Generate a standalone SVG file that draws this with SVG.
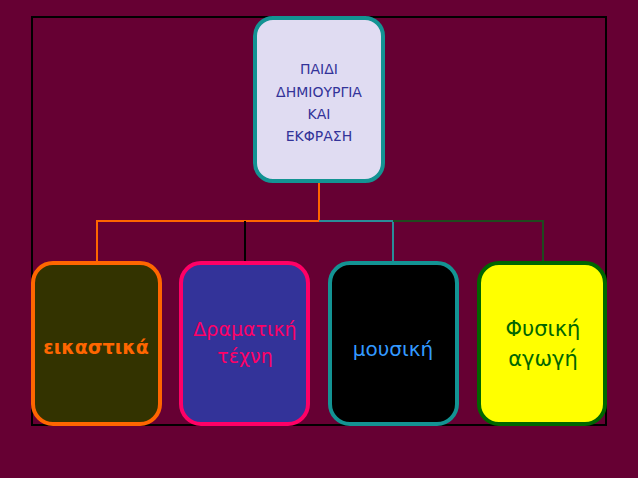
<svg xmlns="http://www.w3.org/2000/svg" width="638" height="478" viewBox="0 0 638 478">
<style>
.n{stroke-width:4}
text{font-family:"DejaVu Sans","Noto Sans",sans-serif;text-anchor:middle}
.c{fill:none;stroke-width:2}
</style>
<rect width="638" height="478" fill="#660033"/>
<rect x="32" y="17" width="574" height="408" fill="none" stroke="#000" stroke-width="2"/>
<g id="connectors">
<path class="c" stroke="#ff6600" d="M319,181V221H97V262"/>
<path class="c" stroke="#000" d="M245,221V262"/>
<path class="c" stroke="#2a8c9a" d="M319,221H393V262"/>
<path class="c" stroke="#1f4a1f" d="M393,221H543V262"/>
</g>
<g id="top">
<rect class="n" x="255" y="18" width="128" height="163" rx="18" fill="#e0dcf2" stroke="#139393"/>
<text font-size="14" fill="#333399"><tspan x="319" y="74">ΠΑΙΔΙ</tspan><tspan x="319" y="97">ΔΗΜΙΟΥΡΓΙΑ</tspan><tspan x="319" y="119">ΚΑΙ</tspan><tspan x="319" y="141">ΕΚΦΡΑΣΗ</tspan></text>
</g>
<g id="n1">
<rect class="n" x="33" y="263" width="127" height="161" rx="20" fill="#333300" stroke="#ff6600"/>
<text x="96" y="354" font-size="19" font-weight="bold" fill="#ff6600">εικαστικά</text>
</g>
<g id="n2">
<rect class="n" x="181" y="263" width="127" height="161" rx="20" fill="#333399" stroke="#ff0066"/>
<text font-size="19" fill="#ff0066"><tspan x="245" y="336">Δραματική</tspan><tspan x="245" y="363">τέχνη</tspan></text>
</g>
<g id="n3">
<rect class="n" x="330" y="263" width="127" height="161" rx="20" fill="#000" stroke="#139393"/>
<text x="393" y="356" font-size="20" fill="#3399ff">μουσική</text>
</g>
<g id="n4">
<rect class="n" x="479" y="263" width="126" height="161" rx="20" fill="#ffff00" stroke="#006600"/>
<text font-size="21" fill="#006600"><tspan x="543" y="336">Φυσική</tspan><tspan x="543" y="366">αγωγή</tspan></text>
</g>
</svg>
